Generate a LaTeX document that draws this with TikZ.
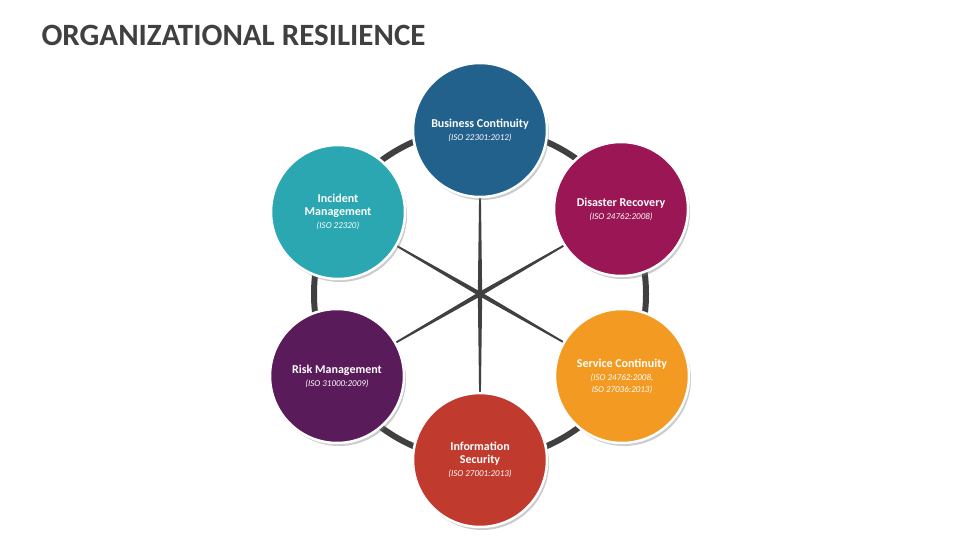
\documentclass[tikz,border=0pt]{standalone}
\usepackage{fontspec}
\setmainfont{Carlito}
\usetikzlibrary{shadows,calc}
\definecolor{cBC}{HTML}{22618C}
\definecolor{cDR}{HTML}{9A1655}
\definecolor{cSC}{HTML}{F29A22}
\definecolor{cIS}{HTML}{C03A2E}
\definecolor{cRM}{HTML}{5A1B5B}
\definecolor{cIM}{HTML}{2AA7B1}
\definecolor{ring}{HTML}{404040}
\begin{document}
\begin{tikzpicture}[x=1pt,y=-1pt,
  ball/.style={circle,minimum size=134pt,inner sep=0pt,draw=white,line width=2.5pt,
    text=white,align=center,font=\fontsize{12}{15}\selectfont,
    drop shadow={opacity=0.4,shadow xshift=2pt,shadow yshift=-3pt}},
  spoke/.style={fill=ring}]
\useasboundingbox (0,0) rectangle (960,540);
\node[anchor=west,font=\bfseries\fontsize{31}{36}\selectfont,text=ring] (title) at (38,35) {ORGANIZATIONAL RESILIENCE};
\coordinate (c) at (480,294);
\draw[ring,line width=6pt] (c) circle (166);
\foreach \a in {90,30,-30}{
  \fill[ring] ($(c)+(\a:166)$) -- ($(c)+(\a+90:2.2)$) -- ($(c)+(\a+180:166)$) -- ($(c)+(\a-90:2.2)$) -- cycle;
}
\node[ball,fill=cBC] (bc) at (480,130) {\textbf{Business Continuity}\\[-2pt]{\small\itshape(ISO 22301:2012)}};
\node[ball,fill=cDR] (dr) at (621,209) {\textbf{Disaster Recovery}\\[-2pt]{\small\itshape(ISO 24762:2008)}};
\node[ball,fill=cSC] (sc) at (622,376) {\textbf{Service Continuity}\\[-2pt]{\small\itshape(ISO 24762:2008,}\\[-3pt]{\small\itshape ISO 27036:2013)}};
\node[ball,fill=cIS] (is) at (480,460) {\textbf{Information}\\[-2pt]\textbf{Security}\\[-2pt]{\small\itshape(ISO 27001:2013)}};
\node[ball,fill=cRM] (rm) at (337,376) {\textbf{Risk Management}\\[-2pt]{\small\itshape(ISO 31000:2009)}};
\node[ball,fill=cIM] (im) at (338,212) {\textbf{Incident}\\[-2pt]\textbf{Management}\\[-2pt]{\small\itshape(ISO 22320)}};
\end{tikzpicture}
\end{document}
